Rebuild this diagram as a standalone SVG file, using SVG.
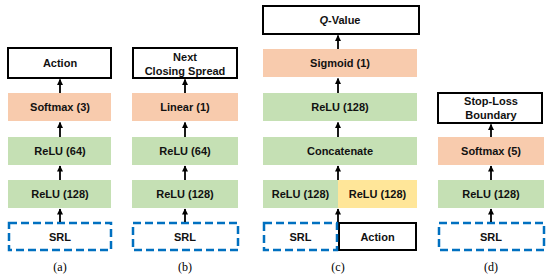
<svg xmlns="http://www.w3.org/2000/svg" width="550" height="280" viewBox="0 0 550 280">
<defs>
<marker id="ah" viewBox="0 0 10 10" refX="9" refY="5" markerWidth="3.4" markerHeight="3.4" orient="auto" markerUnits="strokeWidth">
<path d="M0,0 L10,5 L0,10 z" fill="#000"/>
</marker>
<style>
.t{font-family:"Liberation Sans",Arial,sans-serif;font-weight:bold;font-size:11px;fill:#111;text-anchor:middle}
.out{fill:#fff;stroke:#000;stroke-width:2}
.srl{fill:#fff;stroke:#0070C0;stroke-width:2.5;stroke-dasharray:8 4}
.sal{fill:#F8CBAD}
.grn{fill:#C5E0B4}
.yel{fill:#FFE699}
.cap{font-family:"Liberation Serif","Times New Roman",serif;font-size:12px;fill:#000;text-anchor:middle}
.ar{stroke:#000;stroke-width:1.8;fill:none;marker-end:url(#ah)}
</style>
</defs>
<rect width="550" height="280" fill="#fff"/>

<g id="panel-a">
<g id="a-action"><rect class="out" x="8" y="48" width="103" height="30"/><text class="t" x="60" y="67">Action</text></g>
<g id="a-softmax"><rect class="sal" x="8" y="93" width="103" height="28"/><text class="t" x="60" y="111">Softmax (3)</text></g>
<g id="a-relu64"><rect class="grn" x="8" y="137" width="103" height="28"/><text class="t" x="60" y="155">ReLU (64)</text></g>
<g id="a-relu128"><rect class="grn" x="8" y="180" width="103" height="28"/><text class="t" x="60" y="198">ReLU (128)</text></g>
<g id="a-srl"><rect class="srl" x="9" y="223" width="102" height="27"/><text class="t" x="60" y="241">SRL</text></g>
<text class="cap" x="60" y="271">(a)</text>
</g>

<g id="panel-b">
<g id="b-next"><rect class="out" x="133" y="48" width="104" height="30"/><text class="t" x="185" y="61">Next</text><text class="t" x="185" y="75">Closing Spread</text></g>
<g id="b-linear"><rect class="sal" x="132" y="93" width="106" height="28"/><text class="t" x="185" y="111">Linear (1)</text></g>
<g id="b-relu64"><rect class="grn" x="132" y="137" width="106" height="28"/><text class="t" x="185" y="155">ReLU (64)</text></g>
<g id="b-relu128"><rect class="grn" x="132" y="180" width="106" height="28"/><text class="t" x="185" y="198">ReLU (128)</text></g>
<g id="b-srl"><rect class="srl" x="133" y="223" width="105" height="27"/><text class="t" x="185" y="241">SRL</text></g>
<text class="cap" x="185" y="271">(b)</text>
</g>

<g id="panel-c">
<g id="c-q"><rect class="out" x="263" y="6" width="156" height="28"/><text class="t" x="340" y="24"><tspan font-style="italic">Q</tspan>-Value</text></g>
<g id="c-sigmoid"><rect class="sal" x="263" y="49" width="154" height="28"/><text class="t" x="340" y="67">Sigmoid (1)</text></g>
<g id="c-relu128"><rect class="grn" x="263" y="93" width="154" height="28"/><text class="t" x="340" y="111">ReLU (128)</text></g>
<g id="c-concat"><rect class="grn" x="263" y="137" width="154" height="28"/><text class="t" x="340" y="155">Concatenate</text></g>
<g id="c-relu-srl"><rect class="grn" x="263" y="180" width="75" height="28"/><text class="t" x="300.5" y="198">ReLU (128)</text></g>
<g id="c-relu-act"><rect class="yel" x="338" y="180" width="79" height="28"/><text class="t" x="377.5" y="198">ReLU (128)</text></g>
<g id="c-action"><rect class="out" x="339" y="223" width="77" height="27"/><text class="t" x="377.5" y="241">Action</text></g>
<g id="c-srl"><rect class="srl" x="264" y="223" width="73" height="27"/><text class="t" x="300.5" y="241">SRL</text></g>
<text class="cap" x="338" y="271">(c)</text>
</g>

<g id="panel-d">
<g id="d-stoploss"><rect class="out" x="438" y="93" width="104" height="30"/><text class="t" x="491" y="105">Stop-Loss</text><text class="t" x="491" y="119">Boundary</text></g>
<g id="d-softmax"><rect class="sal" x="438" y="137" width="106" height="28"/><text class="t" x="491" y="155">Softmax (5)</text></g>
<g id="d-relu128"><rect class="grn" x="438" y="180" width="106" height="28"/><text class="t" x="491" y="198">ReLU (128)</text></g>
<g id="d-srl"><rect class="srl" x="439" y="223" width="105" height="27"/><text class="t" x="491" y="241">SRL</text></g>
<text class="cap" x="491" y="271">(d)</text>
</g>

<g id="connectors">
<line class="ar" x1="60" y1="93" x2="60" y2="79.5"/>
<line class="ar" x1="60" y1="137" x2="60" y2="122.5"/>
<line class="ar" x1="60" y1="180" x2="60" y2="166"/>
<line class="ar" x1="60" y1="222" x2="60" y2="209"/>

<line class="ar" x1="185" y1="93" x2="185" y2="79.5"/>
<line class="ar" x1="185" y1="137" x2="185" y2="122.5"/>
<line class="ar" x1="185" y1="180" x2="185" y2="166"/>
<line class="ar" x1="185" y1="222" x2="185" y2="209"/>

<line class="ar" x1="338" y1="49" x2="338" y2="35.5"/>
<line class="ar" x1="338" y1="93" x2="338" y2="78.5"/>
<line class="ar" x1="338" y1="137" x2="338" y2="122.5"/>
<line class="ar" x1="338" y1="180" x2="338" y2="166"/>
<line class="ar" x1="338" y1="222" x2="338" y2="209"/>

<line class="ar" x1="491" y1="137" x2="491" y2="124.5"/>
<line class="ar" x1="491" y1="180" x2="491" y2="166"/>
<line class="ar" x1="491" y1="222" x2="491" y2="209"/>
</g>
</svg>
